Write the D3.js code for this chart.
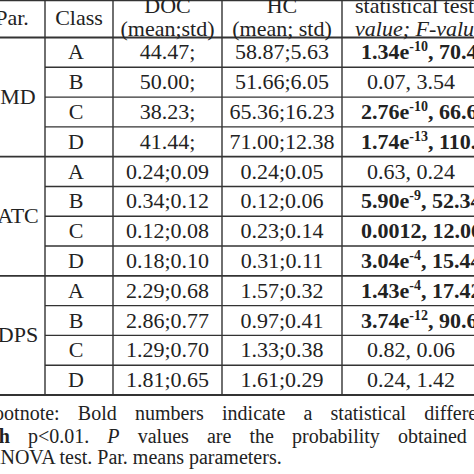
<!DOCTYPE html>
<html>
<head>
<meta charset="utf-8">
<script src="https://cdn.jsdelivr.net/npm/d3@7"></script>
<style>
  html, body { margin: 0; padding: 0; background: #fff; overflow: hidden; }
  svg { display: block; }
  text { font-family: "Liberation Serif", "DejaVu Serif", serif; fill: #222; }
</style>
</head>
<body>
<svg id="chart" width="474" height="474"></svg>
<script>
// table content
const params = ['MD', 'ATC', 'DPS'];
const classes = ['A', 'B', 'C', 'D'];
const docValues = [
    '44.47;', '50.00;', '38.23;', '41.44;',
    '0.24;0.09', '0.34;0.12', '0.12;0.08', '0.18;0.10',
    '2.29;0.68', '2.86;0.77', '1.29;0.70', '1.81;0.65'
];
const hcValues = [
    '58.87;5.63', '51.66;6.05', '65.36;16.23', '71.00;12.38',
    '0.24;0.05', '0.12;0.06', '0.23;0.14', '0.31;0.11',
    '1.57;0.32', '0.97;0.41', '1.33;0.38', '1.61;0.29'
];
// p value mantissa, exponent (null = plain), F value
const pMantissa = ['1.34', '0.07', '2.76', '1.74', '0.63', '5.90', '0.0012', '3.04', '1.43', '3.74', '0.82', '0.24'];
const pExponent = ['-10', null, '-10', '-13', null, '-9', null, '-4', '-4', '-12', null, null];
const fValues = ['70.45', '3.54', '66.68', '110.95', '0.24', '52.34', '12.06', '15.44', '17.42', '90.66', '0.06', '1.42'];
const significant = [true, false, true, true, false, true, true, true, true, true, false, false];
const footnote = [
    'Footnote: Bold numbers indicate a statistical difference',
    'with p<0.01. P values are the probability obtained by',
    'ANOVA test. Par. means parameters.'
];

const svg = d3.select('#chart');
const colEdges = [-3, 45, 113, 222, 342, 480];
const fontSize = 22;

const y = d3.scaleLinear().domain([0, 12]).range([37.5, 395]);
const rowH = y(1) - y(0);
const colMid = i => (colEdges[i] + colEdges[i + 1]) / 2;

// grid lines
const grid = svg.append('g').attr('stroke', '#333').attr('stroke-width', 1.4);
grid.append('line').attr('x1', 0).attr('x2', 474).attr('y1', 0.5).attr('y2', 0.5);
d3.range(13).forEach(i => {
    const groupLine = i % 4 === 0;
    grid.append('line')
        .attr('x1', groupLine ? 0 : colEdges[1]).attr('x2', 474)
        .attr('y1', y(i)).attr('y2', y(i))
        .attr('stroke-width', groupLine ? 1.8 : 1.4);
});
colEdges.slice(1, 5).forEach(x => {
    grid.append('line').attr('x1', x).attr('x2', x).attr('y1', 0).attr('y2', y(12));
});

// header
const header = svg.append('g').attr('font-size', fontSize).attr('text-anchor', 'middle');
header.append('text').attr('x', 12).attr('y', 25).text('Par.');
header.append('text').attr('x', colMid(1)).attr('y', 25).text('Class');
[['DOC', '(mean;std)'], ['HC', '(mean; std)']].forEach((lines, k) => {
    header.append('text').attr('x', colMid(2 + k)).attr('y', 13).text(lines[0]);
    header.append('text').attr('x', colMid(2 + k)).attr('y', 36).text(lines[1]);
});
header.append('text').attr('x', 355).attr('y', 13).attr('text-anchor', 'start').text('statistical test (p-');
header.append('text').attr('x', 355).attr('y', 36).attr('text-anchor', 'start')
    .attr('font-style', 'italic').text('value; F-value)');

// body
const body = svg.append('g').attr('font-size', fontSize).attr('text-anchor', 'middle');
params.forEach((p, g) => {
    body.append('text').attr('x', 18).attr('y', y(g * 4 + 2) + 7).text(p);
});
d3.range(12).forEach(i => {
    const cy = y(i) + rowH / 2 + 7;
    body.append('text').attr('x', colMid(1) - 3).attr('y', cy).text(classes[i % 4]);
    body.append('text').attr('x', colMid(2)).attr('y', cy).text(docValues[i]);
    body.append('text').attr('x', colMid(3)).attr('y', cy).text(hcValues[i]);
    const t = body.append('text').attr('x', 411).attr('y', cy)
        .attr('font-weight', significant[i] ? 'bold' : 'normal');
    if (pExponent[i]) {
        t.attr('text-anchor', 'start').attr('x', 361);
        t.append('tspan').text(pMantissa[i] + 'e');
        t.append('tspan').attr('dy', -8).attr('font-size', 14).text(pExponent[i]);
        t.append('tspan').attr('dy', 8).text(', ' + fValues[i]);
    } else if (significant[i]) {
        t.attr('text-anchor', 'start').attr('x', 361).text(pMantissa[i] + ', ' + fValues[i]);
    } else {
        t.text(pMantissa[i] + ', ' + fValues[i]);
    }
});

// footnote: first two lines justified by spreading words
const foot = svg.append('g').attr('font-size', 20);
const footX = [-17, -28, -14];
const footY = [420, 443, 464];
const footRight = [505, 505];
footnote.forEach((line, i) => {
    if (i === 2) {
        foot.append('text').attr('x', footX[i]).attr('y', footY[i]).text(line);
        return;
    }
    const words = line.split(' ');
    const nodes = words.map(w => {
        const t = foot.append('text').attr('y', footY[i]).text(w);
        if (i === 1 && w === 'with') t.attr('font-weight', 'bold');
        if (i === 1 && w === 'P') t.attr('font-style', 'italic');
        return t;
    });
    const widths = nodes.map(n => n.node().getComputedTextLength());
    const gap = (footRight[i] - footX[i] - d3.sum(widths)) / (words.length - 1);
    let x = footX[i];
    nodes.forEach((n, k) => { n.attr('x', x); x += widths[k] + gap; });
});
</script>
</body>
</html>
